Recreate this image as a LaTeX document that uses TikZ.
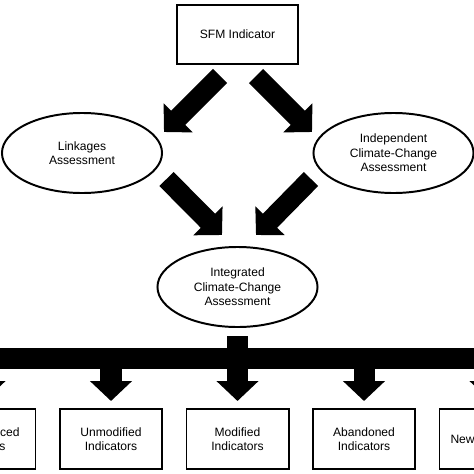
\documentclass[tikz,border=0pt]{standalone}
\usepackage{fontspec}
\setmainfont{Liberation Sans}
\usetikzlibrary{shapes.geometric,arrows.meta}

\begin{document}
\begin{tikzpicture}[x=0.025cm,y=-0.025cm,
  font=\fontsize{8.6}{10.2}\selectfont,
  ibox/.style={draw,line width=1.4pt,minimum width=2.55cm,minimum height=1.5cm,align=center,inner sep=0pt},
  assess/.style={draw,ellipse,line width=1.4pt,minimum width=4cm,minimum height=2cm,align=center,inner sep=0pt},
  fatarrow/.style={line width=0.5cm,-{Triangle[length=0.5cm,width=1cm]}},
  droparrow/.style={line width=0.525cm,-{Triangle[length=0.5cm,width=1.025cm]},shorten >=0.175cm}]
\useasboundingbox (0,0) rectangle (474,474);
% assessments
\node[draw,line width=1.4pt,minimum width=3.025cm,minimum height=1.475cm] (sfm) at (237.5,34.5) {SFM Indicator};
\node[assess] (link) at (82,153) {Linkages\\Assessment};
\node[assess] (indep) at (393.5,153) {Independent\\Climate-Change\\Assessment};
\node[assess] (integ) at (237.5,287) {Integrated\\Climate-Change\\Assessment};
\coordinate (sfmL) at (220,76);
\coordinate (sfmR) at (256,76);
\coordinate (linkIn) at (164,132);
\coordinate (indepIn) at (312,132);
\coordinate (linkOut) at (166.5,179);
\coordinate (indepOut) at (311,179);
\coordinate (integL) at (222,235);
\coordinate (integR) at (256,235);
\draw[fatarrow] (sfmL) -- (linkIn);
\draw[fatarrow] (sfmR) -- (indepIn);
\draw[fatarrow] (linkOut) -- (integL);
\draw[fatarrow] (indepOut) -- (integR);
% outcomes
\node[ibox,text width=1.75cm,align=right,inner xsep=0.4cm] (replaced) at (-15.5,439) {ced\\s\rule{0.35cm}{0pt}};
\node[ibox] (unmod) at (111,439) {Unmodified\\Indicators};
\node[ibox] (mod) at (237.5,439) {Modified\\Indicators};
\node[ibox] (aband) at (364,439) {Abandoned\\Indicators};
\node[ibox] (newind) at (490.5,439) {New Indicators};
\coordinate (bus) at (237.5,358.5);
\coordinate (busL) at (-30,358.5);
\coordinate (busR) at (504,358.5);
\draw[line width=0.525cm] (busL) -- (busR);
\draw[line width=0.525cm,shorten <=0.2cm] (integ.south) -- (bus);
\foreach \b in {replaced,unmod,mod,aband,newind}
  \draw[droparrow] (bus -| \b) -- (\b.north);
\end{tikzpicture}
\end{document}
